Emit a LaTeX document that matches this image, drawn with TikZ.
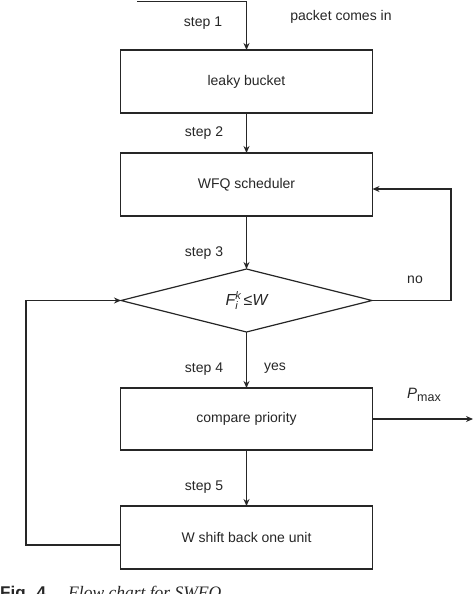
\documentclass[tikz,border=0pt]{standalone}
\usepackage{fontspec}
\setmainfont{Liberation Sans}
\newfontfamily\capserif{Liberation Serif}
\usetikzlibrary{shapes.geometric,arrows.meta}
\begin{document}
\begin{tikzpicture}[x=1pt,y=-1pt,
  every node/.style={font=\fontsize{14}{16}\selectfont, text=black!85},
  box/.style={draw=black!85, line width=1.2pt, rectangle, inner sep=0pt, outer sep=0pt, minimum width=252pt, minimum height=63pt},
  dec/.style={draw=black!85, line width=1.2pt, diamond, inner sep=0pt, outer sep=0pt, minimum width=251pt, minimum height=63pt},
  arr/.style={draw=black!85, line width=1.2pt, -{Stealth[length=7pt,width=6pt]}},
  lbl/.style={inner sep=0pt}]
\clip (0,0) rectangle (474,594);
% boxes
\node[box] (lb) at (246.5,81.5) {leaky bucket};
\node[box] (wfq) at (246.5,184.5) {WFQ scheduler};
\node[dec, font=\fontsize{16}{18}\selectfont] (dia) at (246.5,300.5) {\itshape F\raisebox{-4pt}{\fontsize{11}{9.5}\selectfont\shortstack[l]{\itshape k\\\itshape i}}\,\upshape≤\itshape W};
\node[box, minimum height=62pt] (cp) at (246.5,419) {compare priority};
\node[box] (ws) at (246.5,537.5) {W shift back one unit};
% coordinates
\coordinate (in0) at (137,1.5);
\coordinate (fbR) at (451,189);
\coordinate (out) at (473,419);
\coordinate (lp) at (26,545);
% connectors
\draw[arr] (in0) -| (lb.north);
\draw[arr] (lb.south) -- (wfq.north);
\draw[arr] (wfq.south) -- (dia.north);
\draw[arr] (dia.south) -- (cp.north);
\draw[arr] (cp.south) -- (ws.north);
\draw[arr] (dia.east) -| (fbR) -- (wfq.east |- fbR);
\draw[arr] (cp.east) -- (out);
\draw[arr] (ws.west |- lp) -- (lp) |- (dia.west);
% labels
\node[lbl] (s1) at (203,23) {step 1};
\node[lbl] (pk) at (341,17) {packet comes in};
\node[lbl] (s2) at (204,133) {step 2};
\node[lbl] (s3) at (204,253) {step 3};
\node[lbl] (no) at (415,280) {no};
\node[lbl] (s4) at (204,369) {step 4};
\node[lbl] (yes) at (275,368) {yes};
\node[lbl, font=\fontsize{15}{16}\selectfont] (pm) at (424,395) {\itshape P\upshape\raisebox{-3.5pt}{\fontsize{12.5}{13}\selectfont max}};
\node[lbl] (s5) at (204,487) {step 5};
% caption
\node[lbl, anchor=base west, font=\fontsize{17}{20}\selectfont\bfseries] (cap1) at (0,598) {Fig. 4};
\node[lbl, anchor=base west, font=\fontsize{17.5}{20}\selectfont\capserif\itshape] (cap2) at (68,598) {Flow chart for SWFQ};
\end{tikzpicture}
\end{document}
